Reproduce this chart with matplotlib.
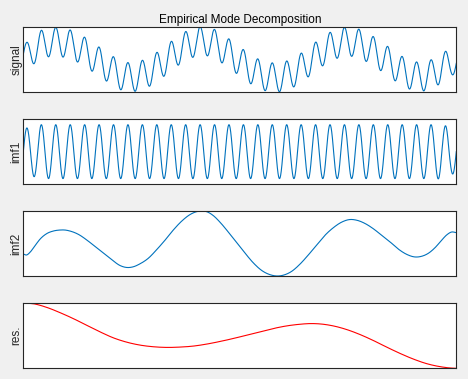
import numpy as np
import matplotlib
matplotlib.use("Agg")
import matplotlib.pyplot as plt

# ---------------- data ----------------
# imf1: 30 oscillation cycles; amplitude of each half-cycle (60 extrema)
imf1_cycles = 30
imf1_extrema = [0.88, 0.93] + [1.0] * 54 + [1.0, 1.01, 0.96, 0.83]

# imf2: samples (position 0..1 along the record, value)
imf2_t = [0.0000, 0.0077, 0.0154, 0.0269, 0.0385, 0.0539, 0.0693, 0.0847, 0.0962, 0.1078,
          0.1270, 0.1463, 0.1655, 0.1848, 0.2040, 0.2232, 0.2386, 0.2540, 0.2694, 0.2887,
          0.3079, 0.3272, 0.3464, 0.3657, 0.3849, 0.4003, 0.4119, 0.4234, 0.4388, 0.4542,
          0.4734, 0.4927, 0.5119, 0.5312, 0.5504, 0.5697, 0.5889, 0.6043, 0.6197, 0.6389,
          0.6582, 0.6774, 0.6967, 0.7159, 0.7352, 0.7544, 0.7698, 0.7891, 0.8083, 0.8276,
          0.8468, 0.8661, 0.8853, 0.9045, 0.9199, 0.9353, 0.9507, 0.9661, 0.9777, 0.9892,
          1.0000]
imf2_v = [-0.472, -0.516, -0.398, -0.103, 0.192, 0.442, 0.560, 0.605, 0.605, 0.560,
          0.413, 0.162, -0.133, -0.428, -0.723, -0.988, -1.077, -1.047, -0.914, -0.664,
          -0.280, 0.147, 0.605, 1.003, 1.298, 1.430, 1.460, 1.430, 1.253, 0.959,
          0.516, 0.044, -0.428, -0.870, -1.209, -1.401, -1.460, -1.401, -1.253, -0.929,
          -0.516, -0.074, 0.369, 0.708, 0.959, 1.077, 1.047, 0.900, 0.664, 0.369,
          0.074, -0.251, -0.487, -0.605, -0.575, -0.442, -0.192, 0.147, 0.383, 0.516,
          0.487]

# residual: samples (position, value)
res_t = [0.0000, 0.0231, 0.0539, 0.0847, 0.1155, 0.1463, 0.1771, 0.2079, 0.2386, 0.2694,
         0.3002, 0.3310, 0.3618, 0.3926, 0.4234, 0.4542, 0.4850, 0.5158, 0.5466, 0.5774,
         0.6082, 0.6389, 0.6620, 0.6851, 0.7159, 0.7467, 0.7775, 0.8083, 0.8391, 0.8699,
         0.9007, 0.9315, 0.9623, 0.9854, 1.0000]
res_v = [0.790, 0.766, 0.678, 0.551, 0.407, 0.247, 0.088, -0.056, -0.160, -0.231,
         -0.271, -0.287, -0.279, -0.255, -0.207, -0.144, -0.072, 0.008, 0.088, 0.168,
         0.231, 0.271, 0.287, 0.279, 0.231, 0.144, 0.024, -0.120, -0.279, -0.431,
         -0.567, -0.678, -0.750, -0.782, -0.790]

labels = ["signal", "imf1", "imf2", "res."]
title = "Empirical Mode Decomposition"


def smooth_curve(xs, ys, xq):
    """Cubic Hermite curve through the read samples (for a smooth rendering)."""
    xs = np.asarray(xs, float)
    ys = np.asarray(ys, float)
    m = np.gradient(ys, xs)
    i = np.clip(np.searchsorted(xs, xq) - 1, 0, len(xs) - 2)
    h = xs[i + 1] - xs[i]
    s = (xq - xs[i]) / h
    h00 = 2 * s**3 - 3 * s**2 + 1
    h10 = s**3 - 2 * s**2 + s
    h01 = -2 * s**3 + 3 * s**2
    h11 = s**3 - s**2
    return h00 * ys[i] + h10 * h * m[i] + h01 * ys[i + 1] + h11 * h * m[i + 1]


# ---------------- build series ----------------
t = np.linspace(0, 1, 3001)
half = np.minimum((t * 2 * imf1_cycles).astype(int), 2 * imf1_cycles - 1)
imf1 = np.asarray(imf1_extrema)[half] * np.sin(2 * np.pi * imf1_cycles * t)
imf2_f = smooth_curve(imf2_t, imf2_v, t)
res_f = smooth_curve(res_t, res_v, t)
signal = imf1 + imf2_f + res_f

# ---------------- figure ----------------
W, H = 468, 379
fig = plt.figure(figsize=(W / 100, H / 100), dpi=100, facecolor="#f0f0f0")
plt.rcParams["font.family"] = ["Liberation Sans", "DejaVu Sans"]

boxes = [(26.7, 91.7), (119.3, 184.0), (211.0, 276.0), (302.7, 368.3)]
x0, x1 = 23.3, 456.3
blue = "#0072BD"
series = [(signal, blue), (imf1, blue), (imf2_f, blue), (res_f, "#ff0000")]

axes = []
for (top, bot), (yy, col), lab in zip(boxes, series, labels):
    ax = fig.add_axes([x0 / W, 1 - bot / H, (x1 - x0) / W, (bot - top) / H])
    ax.plot(t, yy, color=col, lw=0.8)
    ax.set_xlim(0, 1)
    if lab == "imf1":
        ax.set_ylim(-1.2, 1.2)
    else:
        ax.set_ylim(yy.min(), yy.max())
    ax.set_xticks([])
    ax.set_yticks([])
    for s in ax.spines.values():
        s.set_color("#262626")
        s.set_linewidth(0.8)
    ax.set_ylabel(lab, fontsize=8.5, color="#262626", labelpad=0.5)
    axes.append(ax)

axes[0].set_title(title, fontsize=8.5, color="#000000", pad=3)

fig.savefig("out.png", dpi=100, facecolor=fig.get_facecolor())
